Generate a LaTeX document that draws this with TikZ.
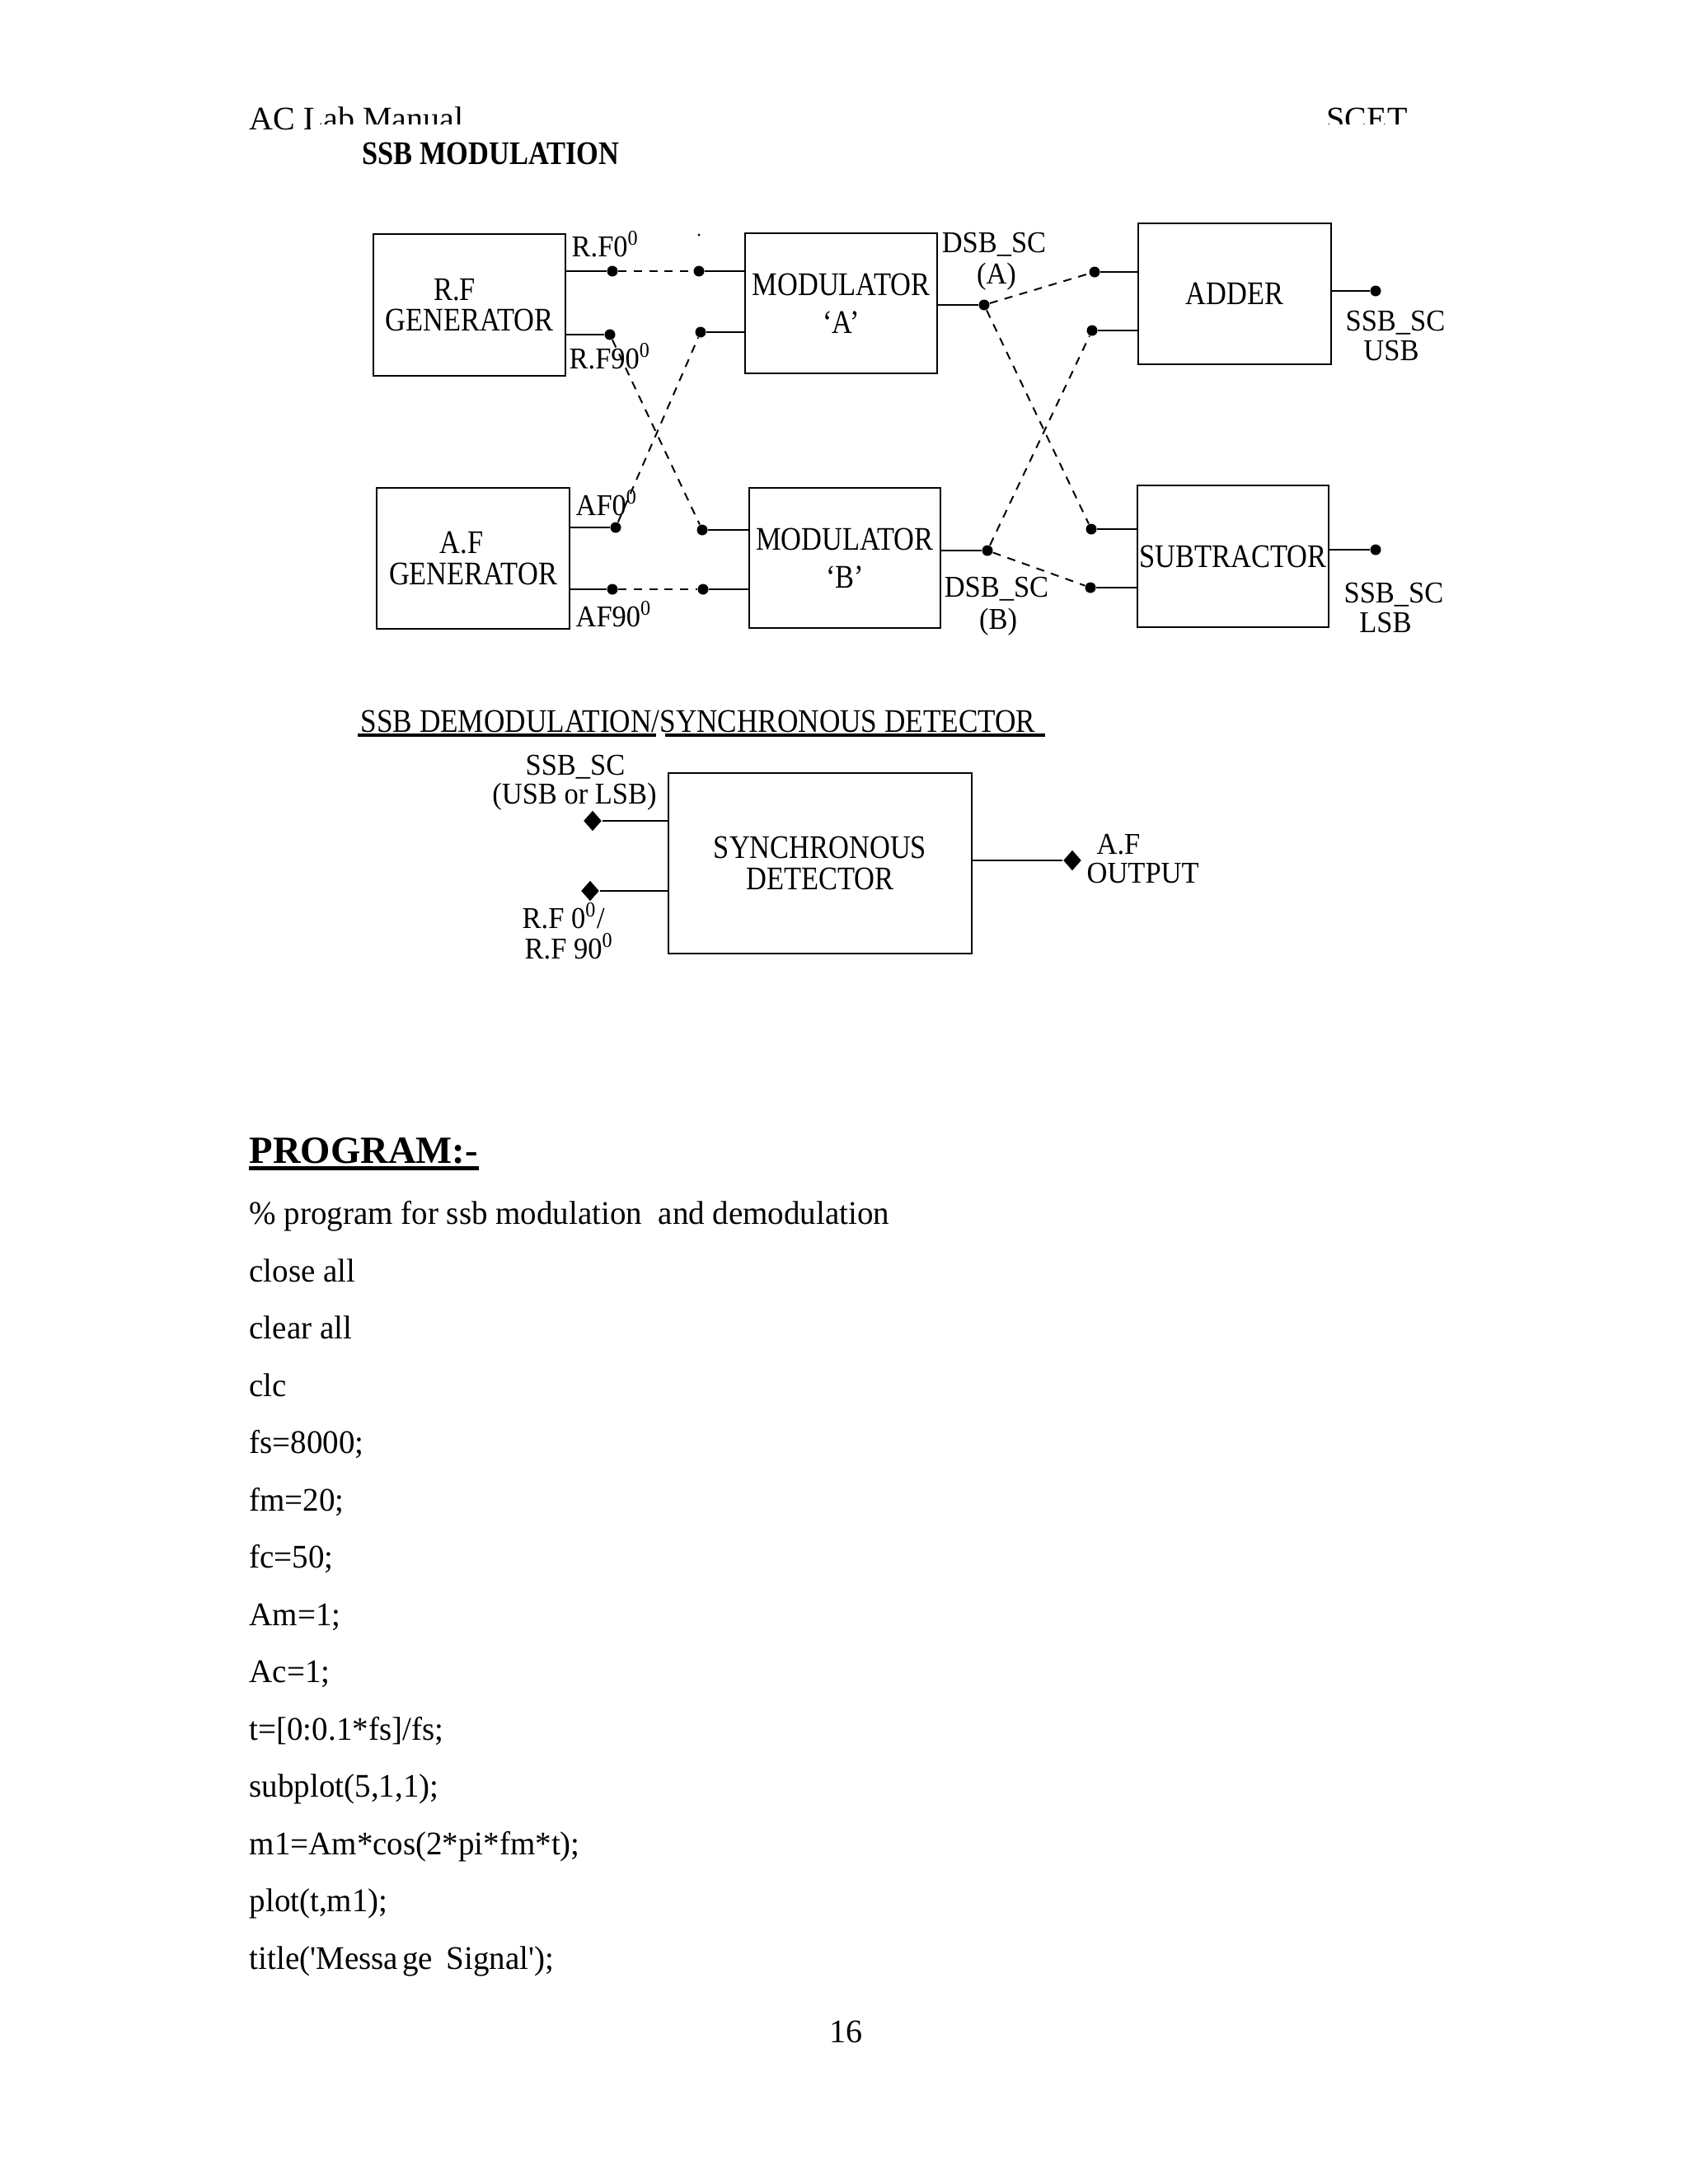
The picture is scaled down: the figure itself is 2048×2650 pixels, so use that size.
\documentclass[tikz,border=0pt]{standalone}
\usepackage{fontspec}
\setmainfont{Liberation Serif}
\newfontfamily\dfont[FakeStretch=0.86]{Liberation Serif}
\newfontfamily\tfont[FakeStretch=0.88]{Liberation Serif}
\newfontfamily\lfont[FakeStretch=0.94]{Liberation Serif}
\newfontfamily\pfont[FakeStretch=0.975]{Liberation Serif}
\usetikzlibrary{shapes.geometric}
\begin{document}
\begin{tikzpicture}[x=0.3pt,y=-0.3pt,
  blk/.style={draw, line width=0.65pt, inner sep=0pt, outer sep=0pt, align=center,
    font=\dfont\fontsize{12}{11.2}\selectfont},
  dot/.style={circle, fill, inner sep=0pt, minimum size=3.9pt},
  ddot/.style={diamond, fill, inner sep=0pt, minimum width=6.6pt, minimum height=7.5pt},
  wire/.style={line width=0.75pt},
  dwire/.style={line width=0.6pt, dash pattern=on 3pt off 2.6pt},
  lbl/.style={inner sep=0pt, font=\lfont\fontsize{11}{12}\selectfont},
  ptxt/.style={anchor=base west, inner sep=0pt, font=\pfont\fontsize{12}{14}\selectfont},
]
\fill[white] (0,0) rectangle (2048,2650);
\useasboundingbox (0,0) rectangle (2048,2650);

% ---- page header (partly hidden) ----
\begin{scope}
  \clip (0,0) rectangle (376,400) (0,0) rectangle (2048,150);
  \node[anchor=base west, inner sep=0pt, font=\fontsize{12}{14}\selectfont] (hdl) at (302,157) {AC Lab Manual};
  \node[anchor=base west, inner sep=0pt, font=\fontsize{12}{14}\selectfont] (hdr) at (1609,157) {SCET};
\end{scope}

% ---- SSB modulation ----
\node[anchor=base west, inner sep=0pt, font=\dfont\bfseries\fontsize{12}{14}\selectfont] (t1) at (439,199) {SSB MODULATION};

\node[blk, minimum width=69.9pt, minimum height=51.6pt] (rf) at (569.5,370) {R.F\hspace*{10.8pt}\\GENERATOR};
\node[blk, minimum width=70.2pt, minimum height=51.3pt] (af) at (574,677.5) {A.F\hspace*{8.4pt}\\GENERATOR};
\node[blk, minimum width=69.9pt, minimum height=51pt, font=\dfont\fontsize{12}{13.8}\selectfont] (ma) at (1020.5,368) {MODULATOR\\‘A’};
\node[blk, minimum width=69.6pt, minimum height=51pt, font=\dfont\fontsize{12}{13.8}\selectfont] (mb) at (1025,677) {MODULATOR\\‘B’};
\node[blk, minimum width=70.2pt, minimum height=51.3pt] (add) at (1498,356.5) {ADDER};
\node[blk, minimum width=69.6pt, minimum height=51.6pt] (sub) at (1496,675) {SUBTRACTOR};

% left side wiring
\node[dot] (r0) at (743,329) {};
\node[dot] (m1) at (848,329) {};
\node[circle, fill, inner sep=0pt, minimum size=1pt] (sdot) at (848,285) {};
\draw[wire] (rf.east |- r0) -- (r0);
\draw[dwire] (r0) -- (m1);
\draw[wire] (m1) -- (ma.west |- m1);

\node[dot] (r90) at (740,406) {};
\node[dot] (m2) at (850,403) {};
\draw[wire] (rf.east |- r90) -- (r90);
\draw[wire] (m2) -- (ma.west |- m2);

\node[dot] (a0) at (747,640) {};
\node[dot] (n1) at (852,643) {};
\draw[wire] (af.east |- a0) -- (a0);
\draw[wire] (n1) -- (mb.west |- n1);

\node[dot] (a90) at (743,715) {};
\node[dot] (n2) at (853,715) {};
\draw[wire] (af.east |- a90) -- (a90);
\draw[dwire] (a90) -- (n2);
\draw[wire] (n2) -- (mb.west |- n2);

\draw[dwire] (r90) -- (n1);
\draw[dwire] (a0) -- (m2);

% right side wiring
\node[dot] (oa) at (1194,370) {};
\node[dot] (ob) at (1198,668) {};
\draw[wire] (ma.east |- oa) -- (oa);
\draw[wire] (mb.east |- ob) -- (ob);

\node[dot] (p1) at (1328,330) {};
\node[dot] (p2) at (1325,401) {};
\node[dot] (q1) at (1324,642) {};
\node[dot] (q2) at (1323,713) {};
\draw[wire] (p1) -- (add.west |- p1);
\draw[wire] (p2) -- (add.west |- p2);
\draw[wire] (q1) -- (sub.west |- q1);
\draw[wire] (q2) -- (sub.west |- q2);
\draw[dwire] (oa) -- (p1);
\draw[dwire] (oa) -- (q1);
\draw[dwire] (ob) -- (p2);
\draw[dwire] (ob) -- (q2);

\node[dot] (uo) at (1669,353) {};
\node[dot] (lo) at (1669,667) {};
\draw[wire] (add.east |- uo) -- (uo);
\draw[wire] (sub.east |- lo) -- (lo);

% labels
\node[lbl, anchor=base west] (lr0) at (693,311) {R.F0\textsuperscript{0}};
\node[lbl, anchor=base west] (lr90) at (690,447) {R.F90\textsuperscript{0}};
\node[lbl, anchor=base west] (la0) at (698,625) {AF0\textsuperscript{0}};
\node[lbl, anchor=base west] (la90) at (698,760) {AF90\textsuperscript{0}};
\node[lbl, anchor=base] (da1) at (1206,306) {DSB\_SC};
\node[lbl, anchor=base] (da2) at (1209,344) {(A)};
\node[lbl, anchor=base] (db1) at (1209,724) {DSB\_SC};
\node[lbl, anchor=base] (db2) at (1211,763) {(B)};
\node[lbl, anchor=base] (u1) at (1693,401) {SSB\_SC};
\node[lbl, anchor=base] (u2) at (1688,437) {USB};
\node[lbl, anchor=base] (l1) at (1691,731) {SSB\_SC};
\node[lbl, anchor=base] (l2) at (1681,767) {LSB};

% ---- SSB demodulation ----
\node[anchor=base west, inner sep=0pt, font=\tfont\fontsize{12}{12}\selectfont] (t2) at (437,888) {SSB DEMODULATION/SYNCHRONOUS DETECTOR};
\draw[line width=1.1pt] (434,892) -- (796,892);
\draw[line width=1.1pt] (807,892) -- (1268,892);

\node[blk, minimum width=110.4pt, minimum height=65.7pt] (sd) at (995,1047.5) {SYNCHRONOUS\\DETECTOR};
\node[ddot] (s1) at (719,996) {};
\node[ddot] (s2) at (716,1081) {};
\node[ddot] (so) at (1301,1044) {};
\draw[wire] (s1) -- (sd.west |- s1);
\draw[wire] (s2) -- (sd.west |- s2);
\draw[wire] (sd.east |- so) -- (so);

\node[lbl, anchor=base] (i1) at (698,940) {SSB\_SC};
\node[lbl, anchor=base] (i2) at (697,975) {(USB or LSB)};
\node[lbl, anchor=base west] (i3) at (633,1126) {R.F 0\textsuperscript{0}/};
\node[lbl, anchor=base west] (i4) at (636,1163) {R.F 90\textsuperscript{0}};
\node[lbl, anchor=base west] (o1) at (1330,1036) {A.F};
\node[lbl, anchor=base west] (o2) at (1318,1071) {OUTPUT};

% ---- program ----
\node[anchor=base west, inner sep=0pt, font=\bfseries\fontsize{14}{16}\selectfont] (pg) at (302,1411) {PROGRAM:-};
\draw[line width=1.5pt] (302,1417) -- (581,1417);

\node[ptxt] (c0) at (302,1485.5) {\% program for ssb modulation\ \ and demodulation};
\node[ptxt] (c1) at (302,1555) {close all};
\node[ptxt] (c2) at (302,1624.5) {clear all};
\node[ptxt] (c3) at (302,1694) {clc};
\node[ptxt] (c4) at (302,1763.5) {fs=8000;};
\node[ptxt] (c5) at (302,1833) {fm=20;};
\node[ptxt] (c6) at (302,1902.5) {fc=50;};
\node[ptxt] (c7) at (302,1972) {Am=1;};
\node[ptxt] (c8) at (302,2041.5) {Ac=1;};
\node[ptxt] (c9) at (302,2111) {t=[0:0.1*fs]/fs;};
\node[ptxt] (c10) at (302,2180.5) {subplot(5,1,1);};
\node[ptxt] (c11) at (302,2250) {m1=Am*cos(2*pi*fm*t);};
\node[ptxt] (c12) at (302,2319.5) {plot(t,m1);};
\node[ptxt] (c13) at (302,2389) {title(\textquotesingle Messa\hspace{1.5pt}ge\hspace{5pt}Signal\textquotesingle);};

\node[anchor=base, inner sep=0pt, font=\fontsize{12}{14}\selectfont] (pn) at (1026,2478) {16};
\end{tikzpicture}
\end{document}
